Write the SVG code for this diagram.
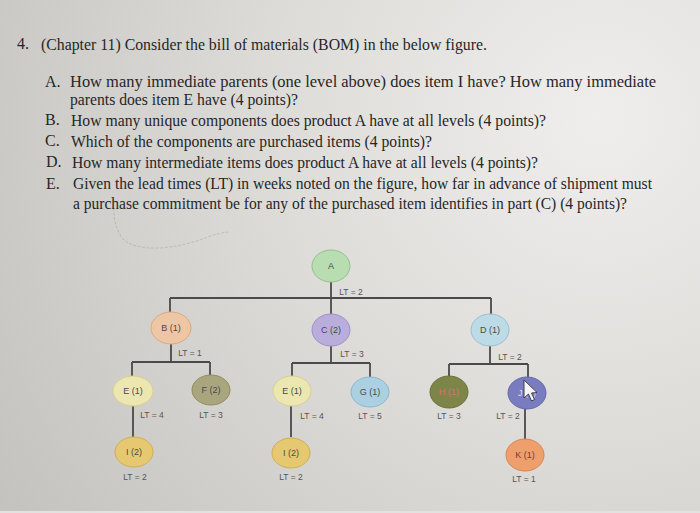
<svg xmlns="http://www.w3.org/2000/svg" width="700" height="513" viewBox="0 0 700 513">
<defs>
<radialGradient id="bg" cx="600" cy="120" r="720" gradientUnits="userSpaceOnUse">
<stop offset="0" stop-color="#efeeec"/>
<stop offset="0.45" stop-color="#dedcd9"/>
<stop offset="1" stop-color="#c4c2be"/>
</radialGradient>
<style>
.q{font-family:"Liberation Serif","Times New Roman",serif;font-size:16px;fill:#262626}
.n{font-family:"Liberation Sans",Arial,sans-serif;font-size:9px;fill:#4a4a4a;text-anchor:middle;dominant-baseline:central}
.lt{font-family:"Liberation Sans",Arial,sans-serif;font-size:8.5px;fill:#555;text-anchor:middle}
.c{stroke-width:1}
#connectors path{fill:none;stroke:#4a4a4a;stroke-width:1.8}
</style>
</defs>
<rect width="700" height="513" fill="url(#bg)"/>
<rect y="511" width="700" height="2" fill="#e2e2e0"/>
<path d="M114,208 Q113,224 122,238 Q132,249 160,248 Q185,246 205,238 Q218,233 228,232" fill="none" stroke="#8e8d88" stroke-width="0.7" stroke-dasharray="3 1.5" opacity="0.5"/>

<g id="question">
<text class="q" x="17" y="49">4.</text>
<text class="q" x="41" y="49.5" textLength="446" lengthAdjust="spacingAndGlyphs">(Chapter 11) Consider the bill of materials (BOM) in the below figure.</text>
<text class="q" x="45" y="86.5">A.</text>
<text class="q" x="70" y="87" textLength="586" lengthAdjust="spacingAndGlyphs">How many immediate parents (one level above) does item I have? How many immediate</text>
<text class="q" x="70" y="105" textLength="228" lengthAdjust="spacingAndGlyphs">parents does item E have (4 points)?</text>
<text class="q" x="45" y="125">B.</text>
<text class="q" x="71" y="125.5" textLength="475" lengthAdjust="spacingAndGlyphs">How many unique components does product A have at all levels (4 points)?</text>
<text class="q" x="45" y="146">C.</text>
<text class="q" x="71" y="146.5" textLength="361" lengthAdjust="spacingAndGlyphs">Which of the components are purchased items (4 points)?</text>
<text class="q" x="46" y="167">D.</text>
<text class="q" x="72" y="167.5" textLength="466" lengthAdjust="spacingAndGlyphs">How many intermediate items does product A have at all levels (4 points)?</text>
<text class="q" x="46" y="188.5">E.</text>
<text class="q" x="73" y="189" textLength="579" lengthAdjust="spacingAndGlyphs">Given the lead times (LT) in weeks noted on the figure, how far in advance of shipment must</text>
<text class="q" x="73" y="209" textLength="554" lengthAdjust="spacingAndGlyphs">a purchase commitment be for any of the purchased item identifies in part (C) (4 points)?</text>
</g>

<g id="connectors">
<path d="M331,282 V298 M170,298 H491 M170,298 V312 M331,298 V314 M491,298 V314"/>
<path d="M171,344 V362 M132,362 H210 M132,362 V376 M210,362 V375"/>
<path d="M331,346 V363 M292,363 H370 M292,363 V376 M370,363 V377"/>
<path d="M490,346 V364 M449,364 H528 M449,364 V376 M528,364 V377"/>
<path d="M133,406 V437 M291,406 V437 M525,408 V440"/>
</g>

<g id="A"><ellipse class="c" cx="331" cy="266" rx="19" ry="16" fill="#b8ddb0" stroke="#95c08c"/><text class="n" x="331" y="266">A</text><text class="lt" x="351" y="295">LT = 2</text></g>
<g id="B"><ellipse class="c" cx="171" cy="328" rx="20" ry="16" fill="#efc6a4" stroke="#d9a982"/><text class="n" x="171" y="328">B (1)</text><text class="lt" x="190" y="356">LT = 1</text></g>
<g id="C"><ellipse class="c" cx="331" cy="330" rx="19" ry="16" fill="#b9aedb" stroke="#9d90c8"/><text class="n" x="331" y="330">C (2)</text><text class="lt" x="352" y="357">LT = 3</text></g>
<g id="D"><ellipse class="c" cx="490" cy="330" rx="19" ry="16" fill="#bcdbe6" stroke="#98c1d2"/><text class="n" x="490" y="330">D (1)</text><text class="lt" x="510" y="360">LT = 2</text></g>
<g id="E1"><ellipse class="c" cx="133" cy="391" rx="20" ry="15" fill="#ece6b0" stroke="#d8cf90"/><text class="n" x="133" y="391">E (1)</text><text class="lt" x="152" y="418">LT = 4</text></g>
<g id="F"><ellipse class="c" cx="211" cy="390" rx="19" ry="15" fill="#a9a57c" stroke="#8f8b62"/><text class="n" x="211" y="390">F (2)</text><text class="lt" x="211" y="418">LT = 3</text></g>
<g id="E2"><ellipse class="c" cx="292" cy="391" rx="19" ry="15" fill="#ece6b0" stroke="#d8cf90"/><text class="n" x="292" y="391">E (1)</text><text class="lt" x="312" y="419">LT = 4</text></g>
<g id="G"><ellipse class="c" cx="370" cy="392" rx="19" ry="15" fill="#abd0e2" stroke="#88b7cf"/><text class="n" x="370" y="392">G (1)</text><text class="lt" x="370" y="419">LT = 5</text></g>
<g id="H"><ellipse class="c" cx="449" cy="392" rx="19" ry="16" fill="#7d8648" stroke="#687238"/><text class="n" x="449" y="392" style="fill:#d07878">H (1)</text><text class="lt" x="449" y="419">LT = 3</text></g>
<g id="J"><ellipse class="c" cx="527" cy="393" rx="19" ry="16" fill="#7a7cc0" stroke="#6568ad"/><text class="n" x="527" y="393" style="fill:#dcdcf0">J (1)</text><text class="lt" x="508" y="419">LT = 2</text>
<path d="M524,380 L524,398 L528.5,394 L531.5,401 L534.5,399.5 L531.5,393 L537,392.5 Z" fill="#f4f4f8" stroke="#333" stroke-width="0.9" stroke-linejoin="round"/></g>
<g id="I1"><ellipse class="c" cx="134" cy="452" rx="19" ry="15" fill="#e6c870" stroke="#cfae52"/><text class="n" x="134" y="452">I (2)</text><text class="lt" x="135" y="480">LT = 2</text></g>
<g id="I2"><ellipse class="c" cx="291" cy="453" rx="19" ry="15" fill="#e6c870" stroke="#cfae52"/><text class="n" x="291" y="453">I (2)</text><text class="lt" x="291" y="480">LT = 2</text></g>
<g id="K"><ellipse class="c" cx="525" cy="455" rx="19" ry="16" fill="#ee9f6c" stroke="#d9844f"/><text class="n" x="525" y="455" style="fill:#7a3a2a">K (1)</text><text class="lt" x="524" y="482">LT = 1</text></g>
</svg>
